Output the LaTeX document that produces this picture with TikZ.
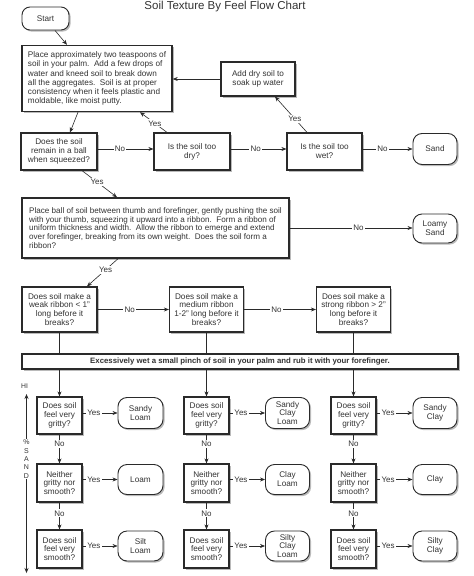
\documentclass[tikz,border=0pt]{standalone}
\usepackage{fontspec}
\setmainfont{Liberation Sans}
\usetikzlibrary{arrows.meta,shadows,calc}
\definecolor{ink}{HTML}{2A2A2A}
\definecolor{txt}{HTML}{333333}
\tikzset{
  box/.style={draw=ink, line width=1.2pt, fill=white, inner sep=0pt, align=center,
    drop shadow={shadow xshift=1.6pt, shadow yshift=-1.6pt, fill=black!45, opacity=0.6},
    font=\fontsize{8.2}{8.9}\selectfont, text=txt},
  bigbox/.style={box, line width=1.4pt, align=left},
  term/.style={box, rounded corners=9pt, line width=0.9pt},
  arr/.style={-{Stealth[length=5pt,width=4pt]}, line width=0.6pt, draw=ink},
  ln/.style={line width=0.6pt, draw=ink},
  lab/.style={fill=white, inner sep=1.2pt, font=\fontsize{8}{9}\selectfont, text=txt},
}
\begin{document}
\begin{tikzpicture}[x=1pt,y=-1pt]
\useasboundingbox[fill=white] (0,0) rectangle (474,576);

\node[anchor=base, font=\fontsize{11.5}{12}\selectfont, text=txt] (title) at (225,9.5) {Soil Texture By Feel Flow Chart};

% top part
\node[term, rounded corners=8pt, minimum width=47pt, minimum height=23pt] (start) at (45.5,18.5) {Start};
\node[bigbox, minimum width=150pt, minimum height=66pt, font=\fontsize{8.2}{9.2}\selectfont] (mix) at (97,78.5)
  {Place approximately two teaspoons of\\soil in your palm.\ \ Add a few drops of\\water and kneed soil to break down\\all the aggregates.\ \ Soil is at proper\\consistency when it feels plastic and\\moldable, like moist putty.};
\node[box, minimum width=74pt, minimum height=34pt] (adddry) at (258,79) {Add dry soil to\\soak up water};

\node[box, minimum width=76pt, minimum height=37pt] (ball) at (59,151.5) {Does the soil\\remain in a ball\\when squeezed?};
\node[box, minimum width=76pt, minimum height=37pt] (dry) at (192,151.5) {Is the soil too\\dry?};
\node[box, minimum width=75pt, minimum height=37pt] (wet) at (324.5,151.5) {Is the soil too\\wet?};
\node[term, minimum width=44pt, minimum height=31pt] (sand) at (435,149) {Sand};

\node[bigbox, minimum width=267pt, minimum height=60pt, font=\fontsize{8.1}{8.7}\selectfont] (ribbon) at (155.5,228)
  {Place ball of soil between thumb and forefinger, gently pushing the soil\\with your thumb, squeezing it upward into a ribbon.\ \ Form a ribbon of\\uniform thickness and width.\ \ Allow the ribbon to emerge and extend\\over forefinger, breaking from its own weight.\ \ Does the soil form a\\ribbon?};
\node[term, minimum width=44pt, minimum height=29pt] (loamy) at (435,228.5) {Loamy\\Sand};

\node[box, minimum width=75pt, minimum height=45pt] (weak) at (59.5,309.5) {Does soil make a\\weak ribbon < 1"\\long before it\\breaks?};
\node[box, minimum width=74pt, minimum height=45pt] (medium) at (206.5,309.5) {Does soil make a\\medium ribbon\\1-2" long before it\\breaks?};
\node[box, minimum width=74pt, minimum height=45pt] (strong) at (353.5,309.5) {Does soil make a\\strong ribbon > 2"\\long before it\\breaks?};

\node[box, minimum width=436pt, minimum height=15pt, line width=1.1pt, font=\fontsize{7.8}{9}\selectfont\bfseries] (bar) at (240,361.5)
  {Excessively wet a small pinch of soil in your palm and rub it with your forefinger.};

% lower grid
\foreach \c/\x/\rx in {1/59.5/140.5, 2/206.5/287.5, 3/353.5/435}{
  \node[box, minimum width=45pt, minimum height=37pt] (g\c) at (\x,415.5) {Does soil\\feel very\\gritty?};
  \node[box, minimum width=45pt, minimum height=38pt] (n\c) at (\x,483) {Neither\\gritty nor\\smooth?};
  \node[box, minimum width=45pt, minimum height=38pt] (s\c) at (\x,549) {Does soil\\feel very\\smooth?};
}
\node[term, minimum width=45pt, minimum height=31pt] (r11) at (140.5,413) {Sandy\\Loam};
\node[term, minimum width=44pt, minimum height=31pt, font=\fontsize{8.2}{8.5}\selectfont] (r12) at (287.5,413) {Sandy\\Clay\\Loam};
\node[term, minimum width=44pt, minimum height=31pt] (r13) at (435,413) {Sandy\\Clay};
\node[term, minimum width=45pt, minimum height=30pt] (r21) at (140.5,479.5) {Loam};
\node[term, minimum width=44pt, minimum height=30pt] (r22) at (287.5,479.5) {Clay\\Loam};
\node[term, minimum width=44pt, minimum height=30pt] (r23) at (435,479.5) {Clay};
\node[term, minimum width=45pt, minimum height=30pt] (r31) at (140.5,546) {Silt\\Loam};
\node[term, minimum width=44pt, minimum height=30pt, font=\fontsize{8.2}{8.5}\selectfont] (r32) at (287.5,546) {Silty\\Clay\\Loam};
\node[term, minimum width=44pt, minimum height=30pt] (r33) at (435,546) {Silty\\Clay};

% connectors top
\draw[arr] ([xshift=9.5pt]start.south) -- ([xshift=-30pt]mix.north);
\draw[arr] (adddry.west) -- (mix.east |- adddry.west);
\draw[arr] ([xshift=-19pt]mix.south) -- ([xshift=11pt]ball.north);
\draw[arr] (ball.east |- sand.west) -- node[lab,pos=0.4]{No} (dry.west |- sand.west);
\draw[arr] (dry.east |- sand.west) -- node[lab,pos=0.45]{No} (wet.west |- sand.west);
\draw[arr] (wet.east |- sand.west) -- node[lab,pos=0.4]{No} (sand.west);
\draw[arr] ([xshift=-25pt]dry.north) -- node[lab,pos=0.45]{Yes} ([xshift=43pt]mix.south);
\draw[arr] ([xshift=-17.5pt]wet.north) -- node[lab,pos=0.38]{Yes} ([xshift=17pt]adddry.south);
\draw[arr] ([xshift=23pt]ball.south) -- node[lab,pos=0.43]{Yes} ([xshift=-38.5pt]ribbon.north);
\draw[arr] (ribbon.east) -- node[lab,pos=0.56]{No} (ribbon.east -| loamy.west);
\draw[arr] ([xshift=-37.5pt]ribbon.south) -- node[lab,pos=0.4]{Yes} ([xshift=27.5pt]weak.north);
\draw[arr] (weak.east) -- node[lab,pos=0.45]{No} (medium.west);
\draw[arr] (medium.east) -- node[lab,pos=0.45]{No} (strong.west);

% connectors lower
\draw[ln] (weak.south) -- (weak.south |- bar.north);
\draw[ln] (medium.south) -- (medium.south |- bar.north);
\draw[ln] (strong.south) -- (strong.south |- bar.north);
\foreach \c in {1,2,3}{
  \draw[arr] (g\c.north |- bar.south) -- (g\c.north);
  \draw[arr] (g\c.south) -- node[lab,pos=0.33]{No} (n\c.north);
  \draw[arr] (n\c.south) -- node[lab,pos=0.4]{No} (s\c.north);
  \draw[arr] (g\c.east |- r1\c.west) -- node[lab,pos=0.32]{Yes} (r1\c.west);
  \draw[arr] (n\c.east |- r2\c.west) -- node[lab,pos=0.32]{Yes} (r2\c.west);
  \draw[arr] (s\c.east |- r3\c.west) -- node[lab,pos=0.32]{Yes} (r3\c.west);
}

% sand axis
\coordinate (axtop) at (26.5,394);
\coordinate (axbot) at (26.5,573);
\draw[{Stealth[length=5pt,width=4pt]}-{Stealth[length=5pt,width=4pt]}, line width=0.6pt, draw=ink] (axtop) -- (axbot);
\node[font=\fontsize{6.8}{7}\selectfont, text=txt] (hi) at (24.5,386) {HI};
\node[fill=white, inner sep=1pt, align=center, font=\fontsize{7}{8.3}\selectfont, text=txt] (sandlbl) at (26.5,459) {\%\\S\\A\\N\\D};
\end{tikzpicture}
\end{document}
